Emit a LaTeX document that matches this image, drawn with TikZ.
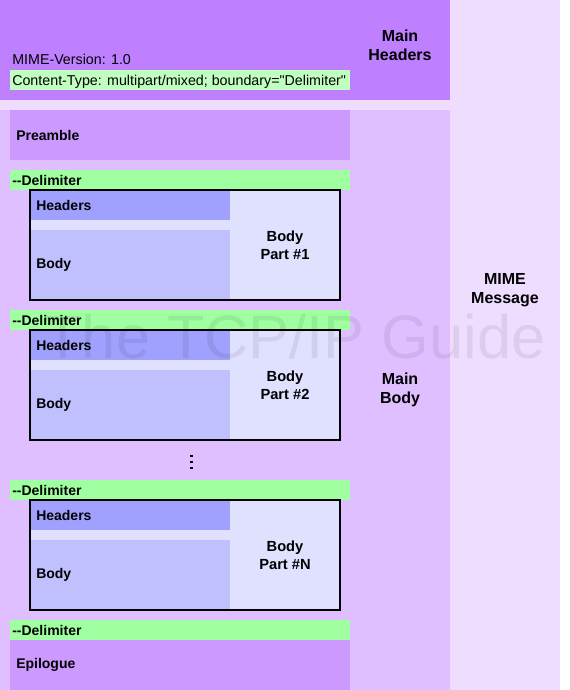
\documentclass[tikz,border=0pt]{standalone}
\usepackage{fontspec}
\setmainfont{Liberation Sans}[Ligatures=TeXOff]
\usetikzlibrary{positioning}
\definecolor{msgbg}{HTML}{EEDDFF}
\definecolor{mainhdr}{HTML}{BF80FF}
\definecolor{mainbody}{HTML}{DFBFFF}
\definecolor{preamblebg}{HTML}{CC99FF}
\definecolor{delimbg}{HTML}{A0FFA0}
\definecolor{ctypebg}{HTML}{C0FFC0}
\definecolor{partbg}{HTML}{E0E0FF}
\definecolor{parthdr}{HTML}{A0A0FF}
\definecolor{partbody}{HTML}{C0C0FF}

\begin{document}
\begin{tikzpicture}[x=0.75pt,y=-0.75pt,
  lbl/.style={font=\fontsize{10.5}{12}\selectfont\bfseries,inner sep=0pt,anchor=west},
  plain/.style={font=\fontsize{10.7}{12}\selectfont,inner sep=0pt,anchor=base west},
  big/.style={font=\fontsize{12}{14.5}\selectfont\bfseries,align=center,inner sep=0pt},
  partlbl/.style={font=\fontsize{11}{13.5}\selectfont\bfseries,align=center,inner sep=0pt}]
  \useasboundingbox (0,0) rectangle (570,690);

  % Message, main headers, main body
  \fill[msgbg] (0,0) rectangle (560,690);
  \fill[mainhdr] (0,0) rectangle (450,100);
  \fill[mainbody] (0,110) rectangle (450,690);
  \node[big] (mimemsg) at (505,290) {MIME\\Message};
  \node[big] (mainhdrs) at (400,45) {Main\\Headers};
  \node[big] (mainbd) at (400,390) {Main\\Body};

  % Header lines
  \node[plain] (version) at (12,64) {MIME-Version: 1.0};
  \fill[ctypebg] (10,70) rectangle (350,90);
  \node[plain] (ctype) at (12,85) {Content-Type: multipart/mixed; boundary="Delimiter"};

  % Preamble and epilogue
  \fill[preamblebg] (10,110) rectangle (350,160);
  \node[lbl] (preamble) at (16,135) {Preamble};
  \fill[preamblebg] (10,640) rectangle (350,690);
  \node[lbl] (epilogue) at (16,665) {Epilogue};

  % Delimiters
  \foreach \yy [count=\i] in {170,310,480,620} {
    \fill[delimbg] (10,\yy) rectangle (350,\yy+20);
    \node[lbl] (delim\i) at (12,\yy+10) {-{}-Delimiter};
  }

  % Body parts
  \foreach \yy/\num [count=\i] in {190/1,330/2,500/N} {
    \fill[partbg] (30,\yy) rectangle ++(310,110);
    \fill[parthdr] (30,\yy) rectangle ++(200,30);
    \fill[partbody] (30,\yy+40) rectangle ++(200,70);
    \draw[line width=1.5pt] (30,\yy) rectangle ++(310,110);
    \node[lbl] (hdr\i) at (36,\yy+15) {Headers};
    \node[lbl] (body\i) at (36,\yy+75) {Body};
    \node[partlbl] (part\i) at (285,\yy+55) {Body\\Part \#\num};
  }

  % More parts
  \foreach \d in {456,462,468}
    \fill (189.5,\d-1.4) rectangle ++(3,2.8);

  % Watermark
  \node[font=\fontsize{46}{50}\selectfont,text=black,opacity=0.07,inner sep=0pt,anchor=base]
    (mark) at (295,358) {The TCP/IP Guide};
\end{tikzpicture}
\end{document}
